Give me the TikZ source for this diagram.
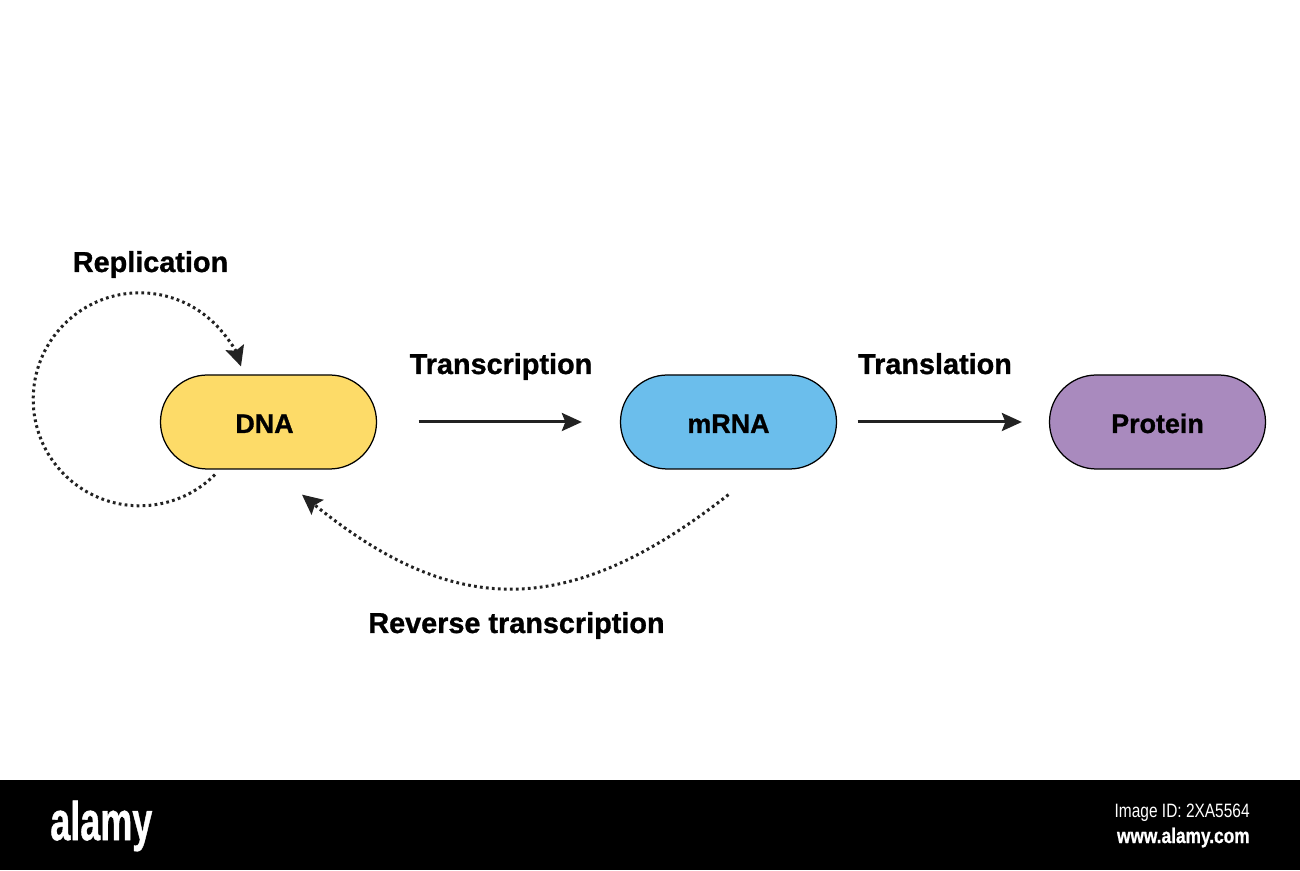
\documentclass[tikz,border=0pt]{standalone}
\usepackage{fontspec}
\setmainfont{Liberation Sans}[BoldFeatures={FakeBold=1}]
\usetikzlibrary{calc}
\usetikzlibrary{arrows.meta}

\definecolor{dnacol}{HTML}{FDDB68}
\definecolor{rnacol}{HTML}{6BBEEC}
\definecolor{protcol}{HTML}{A98ABE}
\definecolor{linecol}{HTML}{222222}

\tikzset{
	pill/.style={draw=black, line width=0.025cm, rounded corners=0.939cm, minimum width=4.32cm, minimum height=1.88cm, inner sep=0pt, text height=0.44cm, text depth=0pt, font=\fontsize{15.3}{18}\selectfont\bfseries},
	lbl/.style={inner sep=0pt, anchor=base, font=\fontsize{16.4}{19}\selectfont\bfseries},
	solidarrow/.style={-{Stealth[length=0.4cm,width=0.36cm,inset=0.07cm]}, line width=0.06cm, linecol},
	dotarrow/.style={-{Stealth[length=0.4cm,width=0.38cm,inset=0.07cm]}, line width=0.06cm, linecol, dash pattern=on 0.055cm off 0.065cm},
}

\begin{document}
\begin{tikzpicture}
		\useasboundingbox (0,0) rectangle (26,17.4);
		\fill[white] (0,0) rectangle (26,17.4);

		\node[pill, fill=dnacol] (dna) at (5.37,8.96) {DNA\hspace*{0.16cm}};
		\node[pill, fill=rnacol] (mrna) at (14.57,8.96) {mRNA};
		\node[pill, fill=protcol] (protein) at (23.15,8.96) {Protein};

		\node[lbl] (replication) at (3.01,11.96) {Replication};
		\node[lbl] (transcription) at (10.02,9.92) {Transcription};
		\node[lbl] (translation) at (18.7,9.92) {Translation};
		\node[lbl] (reverse) at (10.33,4.74) {Reverse transcription};

		% Connections
		\draw [solidarrow, shorten <=0.83cm, shorten >=0.76cm] (dna) -- (mrna);
		\draw [solidarrow, shorten <=0.41cm, shorten >=0.54cm] (mrna) -- (protein);

		\coordinate (rep_start) at ($(dna.south)+(-1.07,-0.1)$);
		\draw [dotarrow] (rep_start) arc[start angle=-45, end angle=-342, radius=2.13];

		\coordinate (rev_start) at ($(mrna.south)+(0,-0.5)$);
		\coordinate (rev_end) at ($(dna.south)+(0.67,-0.5)$);
		\draw [dotarrow] (rev_start) .. controls (11.4,5.02) and (9.1,5.02) .. (rev_end);

		% Footer band
		\fill[black] (0,0) rectangle (26,1.8);
		\node[text=white, inner sep=0pt, anchor=base west] (logo) at (1.0,0.6) {\fontsize{31}{33}\selectfont\bfseries\scalebox{0.66}[1]{alamy}};
		\node[text=white, inner sep=0pt, anchor=base east] (imgid) at (25,1.05) {\fontsize{11}{13}\selectfont\scalebox{0.8}[1]{Image ID: 2XA5564}};
		\node[text=white, inner sep=0pt, anchor=base east] (site) at (25,0.54) {\fontsize{12}{14}\selectfont\bfseries\scalebox{0.82}[1]{www.alamy.com}};
	\end{tikzpicture}
\end{document}
